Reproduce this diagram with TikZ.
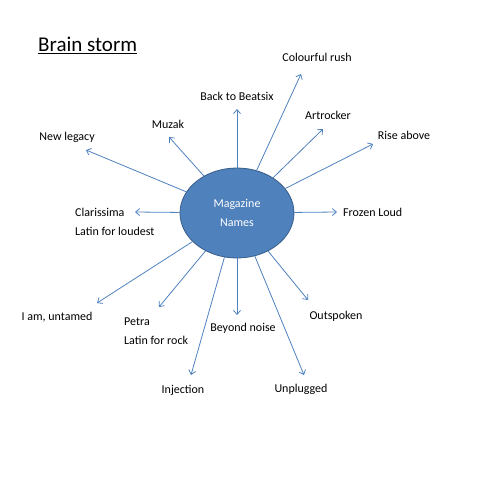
\documentclass[tikz,border=0pt]{standalone}
\usepackage{fontspec}
\setmainfont{Carlito}
\usetikzlibrary{shapes.geometric,arrows.meta}
\definecolor{magblue}{RGB}{79,129,189}
\definecolor{magedge}{RGB}{56,93,138}

\begin{document}
\begin{tikzpicture}[x=1pt,y=-1pt,->,>={Straight Barb[length=4pt,width=7pt]},
  spoke/.style={draw=magblue,line width=0.8pt},
  idea/.style={inner sep=0pt,font=\fontsize{12}{19}\selectfont,align=left}]
  \useasboundingbox (0,0) rectangle (480,480);

  \node[anchor=west,inner sep=0pt,font=\fontsize{21}{24}\selectfont] (title) at (38,45) {\underline{Brain storm}};
  \node[ellipse,fill=magblue,draw=magedge,line width=0.8pt,minimum width=114pt,minimum height=90pt,
        text=white,align=center,font=\fontsize{12}{19}\selectfont] (mag) at (237,213) {Magazine\\Names};

  % names round the ellipse
  \node[idea] (newleg)   at (67,137)  {New legacy};
  \node[idea] (muzak)    at (168,124) {Muzak};
  \node[idea] (beatsix)  at (237,96)  {Back to Beatsix};
  \node[idea] (colour)   at (317,57)  {Colourful rush};
  \node[idea] (artrock)  at (328,115) {Artrocker};
  \node[idea] (rise)     at (404,135) {Rise above};
  \node[idea,anchor=west] (frozen) at (343,212) {Frozen Loud};
  \node[idea,anchor=west] (clar)   at (75,222)  {Clarissima\\Latin for loudest};
  \node[idea] (untamed)  at (57,317)  {I am, untamed};
  \node[idea,anchor=west] (petra)  at (124,331) {Petra\\Latin for rock};
  \node[idea] (inject)   at (183,390) {Injection};
  \node[idea] (beyond)   at (243,328) {Beyond noise};
  \node[idea] (outspok)  at (336,316) {Outspoken};
  \node[idea] (unplug)   at (301,389) {Unplugged};

  % arrow tips
  \coordinate (tnewleg)  at (86,150);
  \coordinate (tmuzak)   at (169,137);
  \coordinate (tbeatsix) at (237,109);
  \coordinate (tcolour)  at (301,74);
  \coordinate (tartrock) at (323,129);
  \coordinate (trise)    at (373,144);
  \coordinate (tfrozen)  at (337,212);
  \coordinate (tclar)    at (135,212);
  \coordinate (tuntamed) at (97,303);
  \coordinate (tpetra)   at (159,307);
  \coordinate (tinject)  at (191,375);
  \coordinate (tbeyond)  at (237,315);
  \coordinate (toutspok) at (308,300);
  \coordinate (tunplug)  at (304,375);

  \path[spoke] (mag) edge (tnewleg)
               (mag) edge (tmuzak)
               (mag) edge (tbeatsix)
               (mag) edge (tcolour)
               (mag) edge (tartrock)
               (mag) edge (trise)
               (mag) edge (tfrozen)
               (mag) edge (tclar)
               (mag) edge (tuntamed)
               (mag) edge (tpetra)
               (mag) edge (tinject)
               (mag) edge (tbeyond)
               (mag) edge (toutspok)
               (mag) edge (tunplug);
\end{tikzpicture}
\end{document}
